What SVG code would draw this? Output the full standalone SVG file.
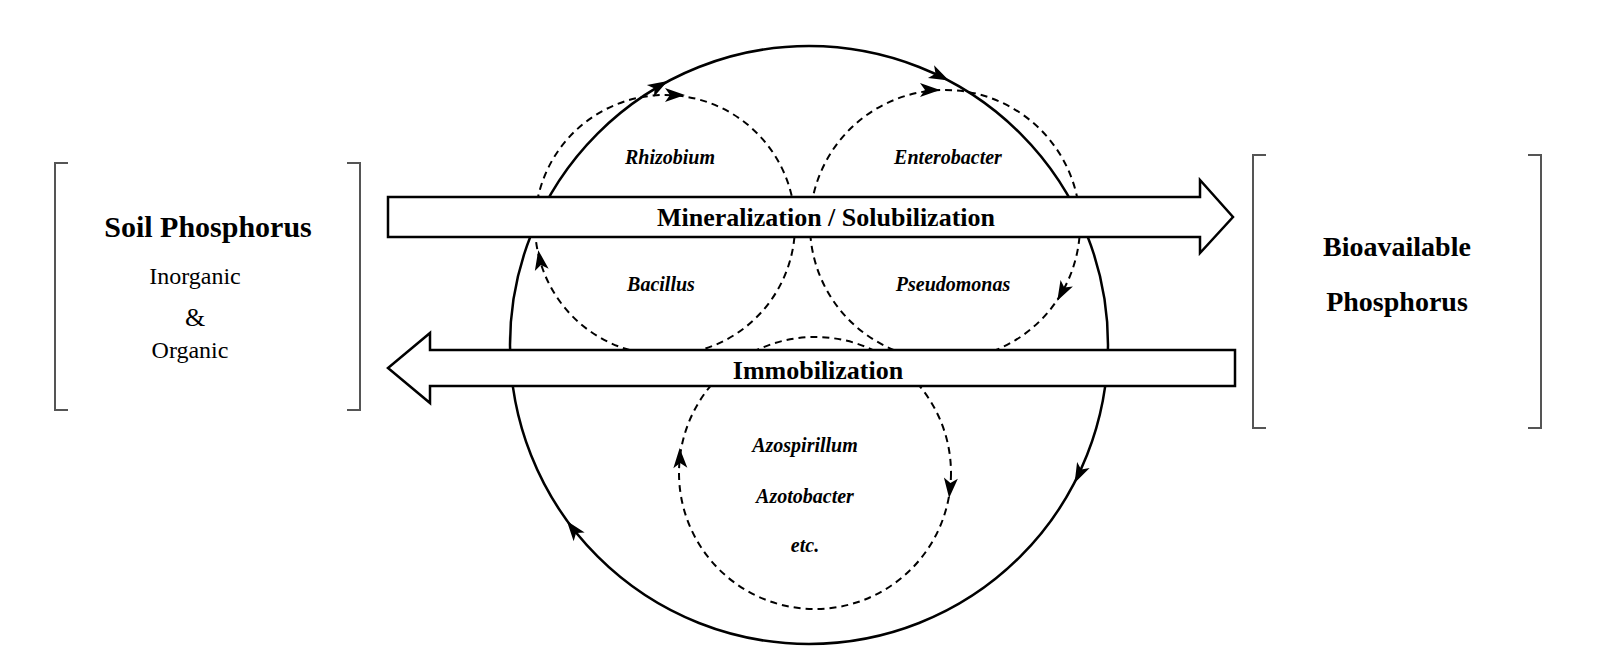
<svg xmlns="http://www.w3.org/2000/svg" width="1622" height="648" viewBox="0 0 1622 648">
<style>
.c{fill:none;stroke:#000;stroke-width:2.5}
.d{fill:none;stroke:#000;stroke-width:2;stroke-dasharray:7 5}
.ar{fill:#fff;stroke:#000;stroke-width:2.5}
.br{fill:none;stroke:#555;stroke-width:2}
.t{font-family:"Liberation Serif",serif;fill:#000}
.b{font-weight:bold}
.i{font-style:italic;font-weight:bold;font-size:20px}
</style>
<defs><path id="h" d="M10,0 L-10,-7 L-5,0 L-10,7 Z" fill="#000"/></defs>
<rect width="1622" height="648" fill="#fff"/>
<g id="connectors">
<circle class="c" cx="809" cy="345" r="299"/>
<circle class="d" cx="665" cy="225" r="130"/>
<circle class="d" cx="945" cy="225" r="135"/>
<circle class="d" cx="815" cy="473" r="136"/>
<use href="#h" transform="translate(659,86) rotate(-30)"/>
<use href="#h" transform="translate(940,76) rotate(26)"/>
<use href="#h" transform="translate(1079,474) rotate(116)"/>
<use href="#h" transform="translate(573,529) rotate(232)"/>
<use href="#h" transform="translate(675,95) rotate(0)"/>
<use href="#h" transform="translate(540,260) rotate(-100)"/>
<use href="#h" transform="translate(930,90) rotate(0)"/>
<use href="#h" transform="translate(1062,292) rotate(118)"/>
<use href="#h" transform="translate(680,458) rotate(-92)"/>
<use href="#h" transform="translate(950,488) rotate(95)"/>
</g>
<g id="mineralization">
<path class="ar" d="M388,197 H1200 V180 L1233,217 L1200,253 V237 H388 Z"/>
<text class="t b" x="826" y="226" font-size="26" text-anchor="middle">Mineralization / Solubilization</text>
</g>
<g id="immobilization">
<path class="ar" d="M1235,350 H430 V333 L388,368 L430,403 V386 H1235 Z"/>
<text class="t b" x="818" y="379" font-size="26" text-anchor="middle">Immobilization</text>
</g>
<g id="soil">
<path class="br" d="M68,163 H55 V410 H68 M347,163 H360 V410 H347"/>
<text class="t b" x="208" y="237" font-size="30" text-anchor="middle">Soil Phosphorus</text>
<text class="t" x="195" y="284" font-size="24" text-anchor="middle">Inorganic</text>
<text class="t" x="195" y="326" font-size="26" text-anchor="middle">&amp;</text>
<text class="t" x="190" y="358" font-size="24" text-anchor="middle">Organic</text>
</g>
<g id="bio">
<path class="br" d="M1266,155 H1253 V428 H1266 M1528,155 H1541 V428 H1528"/>
<text class="t b" x="1397" y="256" font-size="28" text-anchor="middle">Bioavailable</text>
<text class="t b" x="1397" y="311" font-size="28" text-anchor="middle">Phosphorus</text>
</g>
<g id="labels">
<text class="t i" x="670" y="164" text-anchor="middle">Rhizobium</text>
<text class="t i" x="948" y="164" text-anchor="middle">Enterobacter</text>
<text class="t i" x="661" y="291" text-anchor="middle">Bacillus</text>
<text class="t i" x="953" y="291" text-anchor="middle">Pseudomonas</text>
<text class="t i" x="805" y="452" text-anchor="middle">Azospirillum</text>
<text class="t i" x="805" y="503" text-anchor="middle">Azotobacter</text>
<text class="t i" x="805" y="552" text-anchor="middle">etc.</text>
</g>
</svg>
